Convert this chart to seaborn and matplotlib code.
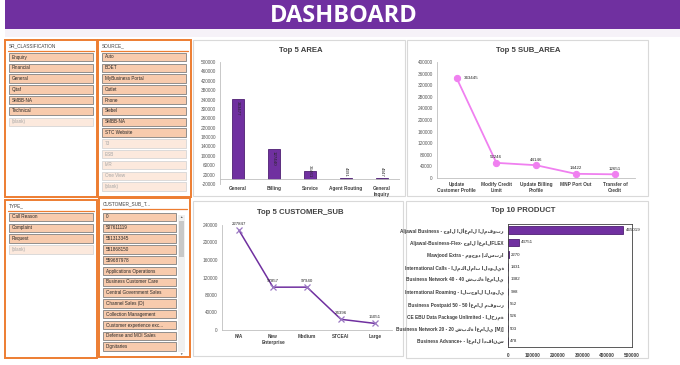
import matplotlib
matplotlib.use("Agg")
import matplotlib.pyplot as plt
from matplotlib.patches import Rectangle
import numpy as np
import pandas as pd
import seaborn as sns

# slicer contents
sr_classification = ["Enquiry", "Financial", "General", "Qitaf", "SMBB-NA", "Technical", "(blank)"]
source_items = ["Auto", "BOET", "MyBusiness Portal", "Outlet", "Phone", "Siebel", "SMBB-NA",
                "STC Website", "73", "ESB", "IVR", "One View", "(blank)"]
type_items = ["Call Reason", "Complaint", "Request", "(blank)"]
customer_sub_type = ["0", "507611119", "551313345", "551868150", "559687978",
                     "Applications Operations", "Business Customer Care", "Central Government Sales",
                     "Channel Sales (D)", "Collection Management", "Customer experience exc...",
                     "Defense and MOI Sales", "Dignitaries"]

# chart data
area_names = ["General", "Billing", "Service", "Agent Routing", "General\nInquiry"]
area_counts = [343477, 127440, 36461, 4391, 4347]

sub_area_names = ["Update\nCustomer Profile", "Modify Credit\nLimit", "Update Billing\nProfile",
                  "MNP Port Out", "Transfer of\nCredit"]
sub_area_counts = [343445, 52246, 44146, 14422, 12651]

customer_sub_names = ["N/A", "New\nEnterprise", "Medium", "STCEAI", "Large"]
customer_sub_counts = [227847, 97857, 97940, 24396, 15051]

product_names = ["Aljawal Business - جوال الأعمال المفوتر",
                 "Aljawal-Business-Flex- جوال أعمالFLEX",
                 "Mawjood Extra - موجود إكسترا",
                 "International Calls - المكالمات الدولية",
                 "Business Network 40 - 40 شبكة أعمالي",
                 "International Roaming - التجوال الدولي",
                 "Business Postpaid 50 - 50 أعمال مفوتر",
                 "CE EBU Data Package Unlimited - الحزمة",
                 "Business Network 20 - 20 شبكة أعمالي [Mj]",
                 "Business Advance+ - أعمال أدفانس"]
product_counts = [465019, 43751, 2270, 1431, 1382, 998, 552, 526, 503, 478]

PURPLE = "#7030A0"
DARK_PURPLE = "#4E1F72"
PINK = "#F080F0"
ORANGE = "#ED7D31"
PEACH = "#F8CBAD"
PALE = "#FCE9DD"
GRID = "#D9D9D9"
TXT = "#404040"

sns.set_style("white")
plt.rcParams["font.family"] = ["Liberation Sans", "DejaVu Sans"]

W, H = 680, 365
fig = plt.figure(figsize=(W / 100, H / 100), dpi=100)
fig.patch.set_facecolor("white")


def box(x0, y0, x1, y1):
    return [x0 / W, 1 - y1 / H, (x1 - x0) / W, (y1 - y0) / H]


bg = fig.add_axes([0, 0, 1, 1])
bg.set_xlim(0, W)
bg.set_ylim(H, 0)
bg.axis("off")

# header
bg.add_patch(Rectangle((5, 0), W - 5, 29, facecolor=PURPLE, edgecolor="none"))
bg.add_patch(Rectangle((5, 29), W - 5, 8, facecolor="#F6F2F8", edgecolor="none"))
bg.text(344, 15.5, "DASHBOARD", color="white", fontsize=17, fontweight="bold",
        ha="center", va="center", family=["Open Sans", "DejaVu Sans"])


def slicer(x0, y0, x1, y1, title, items, n_active, item_right, first_y):
    bg.add_patch(Rectangle((x0, y0), x1 - x0, y1 - y0, fill=False, edgecolor=ORANGE, lw=1.4))
    bg.text(x0 + 4, y0 + 6, title, fontsize=3.4, va="center", color=TXT)
    bg.plot([x0 + 3, x1 - 3], [y0 + 11, y0 + 11], color=ORANGE, lw=0.9)
    for i, name in enumerate(items):
        yc = first_y + i * 10.8
        active = i < n_active
        bg.add_patch(Rectangle((x0 + 4, yc - 4.2), item_right - (x0 + 4), 8.4,
                               facecolor=PEACH if active else PALE,
                               edgecolor="#808080" if active else "#D6D6D6", lw=0.6))
        bg.text(x0 + 7, yc, name, fontsize=3.3, va="center",
                color="#262626" if active else "#A6A6A6")


slicer(5, 40, 97, 197, "SR_CLASSIFICATION", sr_classification, 6, 93, 57)
slicer(98, 40, 191, 197, "SOURCE_", source_items, 8, 186, 57)
slicer(5, 200, 97, 358, "TYPE_", type_items, 3, 93, 217)
slicer(99, 198, 190, 357, "CUSTOMER_SUB_T...", customer_sub_type, 13, 176, 217)

# scrollbar of the last slicer
bg.add_patch(Rectangle((178, 215), 7, 137, facecolor="#F0F0F0", edgecolor="none"))
bg.add_patch(Rectangle((179, 221), 5, 36, facecolor="#C8C8C8", edgecolor="none"))
bg.text(181.5, 217, "▲", fontsize=2.5, ha="center", va="center", color="#606060")
bg.text(181.5, 354, "▼", fontsize=2.5, ha="center", va="center", color="#606060")

# chart panels
for p in [(193, 40, 405, 196), (407, 40, 648, 196), (193, 201, 403, 356), (406, 201, 648, 358)]:
    bg.add_patch(Rectangle((p[0], p[1]), p[2] - p[0], p[3] - p[1], fill=False, edgecolor=GRID, lw=0.8))


def style_axis(ax):
    ax.set_xlabel("")
    ax.set_ylabel("")
    ax.tick_params(axis="both", labelsize=3.4, colors="#595959", length=1.5, width=0.5, pad=1.5)
    for lab in ax.get_xticklabels():
        lab.set_fontweight("bold")
        lab.set_color(TXT)
    for s in ax.spines.values():
        s.set_color("#BFBFBF")
        s.set_linewidth(0.6)
    ax.set_facecolor("white")


def chart_title(x, y, s):
    bg.text(x, y, s, fontsize=5.6, fontweight="bold", ha="center", va="center", color=TXT)


# Top 5 AREA
chart_title(301, 50.5, "Top 5 AREA")
ax1 = fig.add_axes(box(220, 62, 400, 184))
area_df = pd.DataFrame({"area": area_names, "count": area_counts})
sns.barplot(data=area_df, x="area", y="count", ax=ax1, color=PURPLE, width=0.36,
            saturation=1, edgecolor=DARK_PURPLE, linewidth=0.6)
ax1.set_ylim(-20000, 500000)
ax1.set_yticks(np.arange(-20000, 500001, 40000))
ax1.set_yticklabels([str(v) for v in np.arange(-20000, 500001, 40000)])
ax1.axhline(0, color="#BFBFBF", lw=0.6)
style_axis(ax1)
ax1.spines["top"].set_visible(False)
ax1.spines["right"].set_visible(False)
ax1.spines["bottom"].set_visible(False)
ax1.tick_params(axis="x", length=0)
for i, v in enumerate(area_counts):
    if v > 100000:
        ax1.text(i, v - 8000, str(v), rotation=270, fontsize=3.2, ha="center", va="top", color="#262626")
    elif v > 20000:
        ax1.text(i, v, str(v), rotation=270, fontsize=3.2, ha="center", va="center", color="#262626")
    else:
        ax1.text(i, v + 8000, str(v), rotation=270, fontsize=3.2, ha="center", va="bottom", color="#262626")

# Top 5 SUB_AREA
chart_title(528, 50.5, "Top 5 SUB_AREA")
ax2 = fig.add_axes(box(437, 62, 635, 178))
sub_df = pd.DataFrame({"sub_area": sub_area_names, "count": sub_area_counts})
sns.lineplot(data=sub_df, x="sub_area", y="count", ax=ax2, sort=False, color=PINK, lw=1.3,
             marker="o", markersize=4.5, markeredgecolor=PINK)
ax2.set_xlim(-0.5, 4.5)
ax2.set_ylim(0, 400000)
ax2.set_yticks(np.arange(0, 400001, 40000))
style_axis(ax2)
ax2.spines["top"].set_visible(False)
ax2.spines["right"].set_visible(False)
for i, v in enumerate(sub_area_counts):
    if i == 0:
        ax2.text(i + 0.18, v, str(v), fontsize=3.2, ha="left", va="center", color="#262626")
    else:
        ax2.text(i, v + 12000, str(v), fontsize=3.2, ha="center", va="bottom", color="#262626")

# Top 5 CUSTOMER_SUB
chart_title(300, 212, "Top 5 CUSTOMER_SUB")
ax3 = fig.add_axes(box(222, 225, 392, 330))
cust_df = pd.DataFrame({"customer_sub": customer_sub_names, "count": customer_sub_counts})
sns.lineplot(data=cust_df, x="customer_sub", y="count", ax=ax3, sort=False, color=PURPLE, lw=1.1,
             marker="x", markersize=4.5, markeredgecolor="#9A77C2", markeredgewidth=0.9)
ax3.set_xlim(-0.5, 4.5)
ax3.set_ylim(0, 240000)
ax3.set_yticks(np.arange(0, 240001, 40000))
style_axis(ax3)
ax3.spines["top"].set_visible(False)
ax3.spines["right"].set_visible(False)
for i, v in enumerate(customer_sub_counts):
    ax3.text(i, v + 9000, str(v), fontsize=3.2, ha="center", va="bottom", color="#262626")

# Top 10 PRODUCT
chart_title(523, 211, "Top 10 PRODUCT")
ax4 = fig.add_axes(box(508, 224, 632, 347))
prod_df = pd.DataFrame({"product": product_names, "count": product_counts})
sns.barplot(data=prod_df, y="product", x="count", orient="h", ax=ax4, color=PURPLE, width=0.6,
            saturation=1, edgecolor=DARK_PURPLE, linewidth=0.6)
ax4.set_xlim(0, 500000)
ax4.set_xticks(np.arange(0, 500001, 100000))
style_axis(ax4)
for lab in ax4.get_yticklabels():
    lab.set_fontweight("bold")
    lab.set_color(TXT)
for s in ax4.spines.values():
    s.set_color("#404040")
ax4.tick_params(axis="x", length=0, pad=4)
for lab in ax4.get_xticklabels():
    lab.set_fontweight("bold")
for i, v in enumerate(product_counts):
    ax4.text(v + 9000, i, str(v), fontsize=3.2, ha="left", va="center", color="#262626")

fig.savefig("out.png", dpi=100)
plt.close(fig)
